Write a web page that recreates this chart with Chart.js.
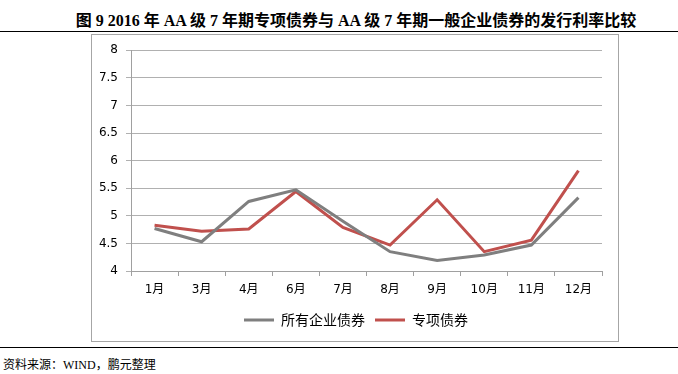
<!DOCTYPE html>
<html>
<head>
<meta charset="utf-8">
<script src="https://cdn.jsdelivr.net/npm/chart.js@4.4.0/dist/chart.umd.min.js"></script>
<style>
  html,body{margin:0;padding:0;background:#fff;}
  #page{position:relative;width:678px;height:374px;overflow:hidden;}
  #title{position:absolute;left:0;width:678px;top:7px;text-align:center;padding-left:34px;box-sizing:border-box;
    font:bold 16px "Liberation Serif","Noto Sans CJK SC",serif;color:#000;white-space:nowrap;}
  #topline{position:absolute;left:0;top:31px;width:678px;height:1px;background:#000;}
  #botline{position:absolute;left:0;top:347px;width:678px;height:1px;background:#000;}
  #box{position:absolute;left:91px;top:34px;width:526px;height:306px;border:1px solid #a6a6a6;}
  #source{position:absolute;left:3px;top:355px;font:12px "Liberation Serif","Noto Sans CJK SC",serif;color:#000;white-space:nowrap;}
</style>
</head>
<body>
<div id="page">
  <div id="title">图 9 2016 年 AA 级 7 年期专项债券与 AA 级 7 年期一般企业债券的发行利率比较</div>
  <div id="topline"></div>
  <div id="box"><canvas id="c" width="526" height="306"></canvas></div>
  <div id="botline"></div>
  <div id="source">资料来源：WIND，鹏元整理</div>
</div>
<script>
const categories = ["1月","3月","4月","6月","7月","8月","9月","10月","11月","12月"];
const seriesNames = ["所有企业债券","专项债券"];
const allCorpBonds = [4.77, 4.53, 5.26, 5.47, 4.90, 4.35, 4.19, 4.29, 4.47, 5.33];
const specialBonds = [4.83, 4.72, 4.76, 5.44, 4.79, 4.47, 5.29, 4.35, 4.56, 5.82];
const yTicks = [4, 4.5, 5, 5.5, 6, 6.5, 7, 7.5, 8];

const GRAY = '#7f7f7f', RED = '#c0504d';
const cjk = '"DejaVu Sans","Noto Sans CJK SC",sans-serif';

const shiftLegend = {
  id: 'shiftLegend',
  afterLayout(chart) {
    if (chart.legend) { chart.legend.left += 9; chart.legend.right += 9; }
  }
};

new Chart(document.getElementById('c'), {
  type: 'line',
  data: {
    labels: categories,
    datasets: [
      {label: seriesNames[0], data: allCorpBonds, borderColor: GRAY, backgroundColor: GRAY, borderWidth: 3, pointRadius: 0, tension: 0},
      {label: seriesNames[1], data: specialBonds, borderColor: RED, backgroundColor: RED, borderWidth: 3, pointRadius: 0, tension: 0}
    ]
  },
  plugins: [shiftLegend],
  options: {
    responsive: false,
    animation: false,
    layout: {padding: {left: 0, right: 16, top: 15, bottom: 4}},
    plugins: {
      tooltip: {enabled: false},
      legend: {
        position: 'bottom',
        labels: {
          boxWidth: 30, boxHeight: 3, padding: 10, color: '#000',
          font: {family: '"Noto Sans CJK SC",sans-serif', size: 14},
          generateLabels(chart) {
            return chart.data.datasets.map((d, i) => ({
              text: d.label, fillStyle: d.borderColor, strokeStyle: d.borderColor,
              lineWidth: 0, hidden: false, datasetIndex: i, fontColor: '#000'
            }));
          }
        }
      }
    },
    scales: {
      x: {
        offset: true,
        grid: {offset: true, drawOnChartArea: false, drawTicks: true, tickLength: 5, color: '#a0a0a0'},
        border: {display: true, color: '#a0a0a0', width: 1},
        ticks: {color: '#000', padding: 7, font: {family: cjk, size: 12}, maxRotation: 0, autoSkip: false},
        afterFit(s) { s.height = 32; }
      },
      y: {
        min: 4, max: 8,
        afterBuildTicks(s) { s.ticks = yTicks.map(v => ({value: v})); },
        grid: {color: '#b0b0b0', drawTicks: true, tickLength: 5},
        border: {display: true, color: '#a0a0a0', width: 1},
        ticks: {color: '#000', padding: 8, font: {family: '"DejaVu Sans",sans-serif', size: 12},
          callback: v => String(v)},
        afterFit(s) { s.width = 39; }
      }
    }
  }
});
</script>
</body>
</html>
